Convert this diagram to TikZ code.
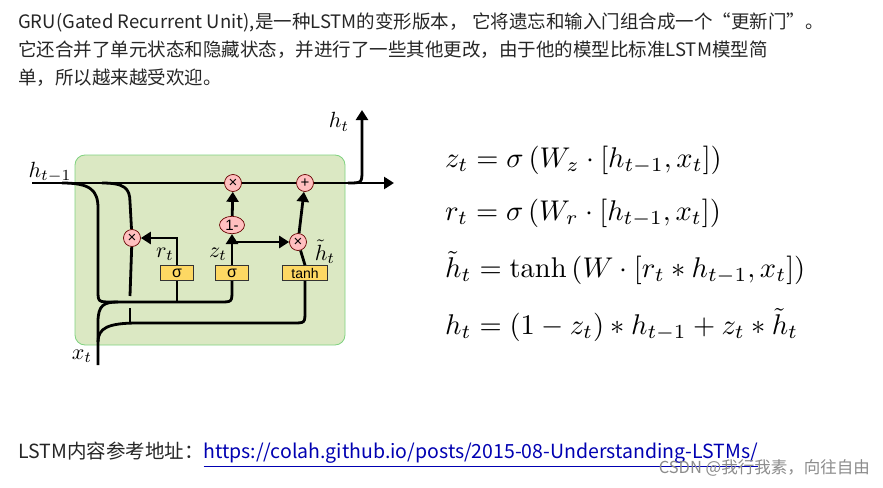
\documentclass[tikz,border=0pt]{standalone}
\usepackage{amsmath}
\usepackage{graphicx}
\usepackage{fontspec}
\newfontfamily\cjk{Noto Sans CJK SC}
\newfontfamily\arial{Liberation Sans}
\usetikzlibrary{arrows.meta,shapes.geometric}
\newcommand{\lb}[1]{\scalebox{2.2}{$#1$}}
\newcommand{\eqx}[1]{\scalebox{2.85}{$#1$}}
\begin{document}
\begin{tikzpicture}[x=1pt,y=-1pt,
  wire/.style={line width=2.8pt,black},
  arr/.style={wire,-{Triangle[length=10pt,width=12pt]}},
  opc/.style={circle,draw=black!60!red,fill=red!25,line width=0.7pt,inner sep=0pt,minimum size=17pt},
  gate/.style={draw=black!80,fill=yellow!55!orange!60,line width=0.7pt,inner sep=1pt,minimum height=15pt},
  lbl/.style={inner sep=1pt},
  txt/.style={anchor=west,inner sep=0pt,font=\cjk\fontsize{18.5}{18.5}\selectfont,text=black!85},
  eq/.style={anchor=west,inner sep=0pt}]
\useasboundingbox[fill=white] (0,0) rectangle (883,487);
\node[txt] (l1) at (18,22) {GRU(Gated Recurrent Unit),是一种LSTM的变形版本， 它将遗忘和输入门组合成一个“更新门”。};
\node[txt] (l2) at (18,50) {它还合并了单元状态和隐藏状态，并进行了一些其他更改，由于他的模型比标准LSTM模型简};
\node[txt] (l3) at (18,78) {单，所以越来越受欢迎。};
% box
\node[draw=black!35!green!50,fill=green!35!yellow!35!white!70!gray!60,rounded corners=10pt,line width=0.8pt,minimum width=270pt,minimum height=190pt,inner sep=0pt] (cell) at (210,250) {};
% ops
\node[opc] (m1) at (233,183) {\arial\fontsize{15}{15}\selectfont ×};
\node[opc] (pl) at (305,183) {\arial\fontsize{15}{15}\selectfont +};
\node[opc] (mr) at (132,238) {\arial\fontsize{15}{15}\selectfont ×};
\node[opc] (mh) at (298,242) {\arial\fontsize{15}{15}\selectfont ×};
\node[ellipse,draw=black!60!red,fill=red!25,line width=0.7pt,inner sep=1pt,minimum width=25pt,minimum height=17pt] (one) at (232,225) {\arial\fontsize{15}{15}\selectfont 1-};
\node[gate,minimum width=33pt] (sr) at (177,273) {\arial\fontsize{16}{16}\selectfont σ};
\node[gate,minimum width=33pt] (sz) at (232,273) {\arial\fontsize{16}{16}\selectfont σ};
\node[gate,minimum width=45pt] (th) at (305,273) {\arial\fontsize{14}{14}\selectfont tanh};
\coordinate (hin) at (32,183);
\coordinate (hout) at (394,183);
\coordinate (htop) at (362,110);
\coordinate (xin) at (98,365);
% wires
\draw[wire] (hin) -- (m1);
\draw[wire] (m1) -- (pl);
\draw[arr] (pl) -- (hout);
\draw[arr] (348,183) .. controls (362,183) .. (362,170) -- (htop);
\draw[wire] (62,183) .. controls (90,183) and (98,190) .. (98,208) -- (98,290) .. controls (98,302) .. (112,302) -- (220,302) .. controls (232,302) .. (232,290) -- (sz.south);
\draw[wire] (177,302) -- (sr.south);
\draw[wire] (xin) -- (98,322) .. controls (98,305) and (104,302) .. (118,302);
\draw[wire] (98,342) .. controls (98,328) and (108,323) .. (138,323) -- (293,323) .. controls (305,323) .. (305,311) -- (th.south);
\draw[wire] (102,183) .. controls (124,183) and (130,188) .. (130,202) -- (mr);
\draw[wire] (mr) -- (130,296);
\draw[wire] (130,308) -- (130,323);
\draw[arr] (sr.north) -- (177,238) -- (mr);
\draw[arr] (sz.north) -- (one);
\draw[arr] (one) -- (m1);
\draw[arr] (232,242) -- (mh);
\draw[wire] (th.north) -- (mh);
\draw[arr] (mh) -- (pl);
% labels
\node[lbl] (lr) at (165,254) {\lb{r_t}};
\node[lbl] (lz) at (218,254) {\lb{z_t}};
\node[lbl] (lh) at (325,252) {\lb{\tilde h_t}};
\node[lbl] (lhm) at (50,172) {\lb{h_{t-1}}};
\node[lbl] (lx) at (82,356) {\lb{x_t}};
\node[lbl] (lht) at (339,122) {\lb{h_t}};
% equations
\node[eq] (e1) at (445,160) {\eqx{z_t=\sigma\left(W_z\cdot[h_{t-1},x_t]\right)}};
\node[eq] (e2) at (445,213) {\eqx{r_t=\sigma\left(W_r\cdot[h_{t-1},x_t]\right)}};
\node[eq] (e3) at (445,268) {\eqx{\tilde h_t=\tanh\left(W\cdot[r_t*h_{t-1},x_t]\right)}};
\node[eq] (e4) at (445,325) {\eqx{h_t=(1-z_t)*h_{t-1}+z_t*\tilde h_t}};
% footer
\node[txt,font=\cjk\fontsize{19.5}{19.5}\selectfont] (ref) at (18,455) {LSTM内容参考地址：\textcolor{blue!70!black}{\underline{https://colah.github.io/posts/2015-08-Understanding-LSTMs/}}};
\node[anchor=east,inner sep=0pt,font=\cjk\fontsize{16.5}{16.5}\selectfont,text=black!45] (wm) at (870,468) {CSDN @我行我素，向往自由};
\end{tikzpicture}
\end{document}
